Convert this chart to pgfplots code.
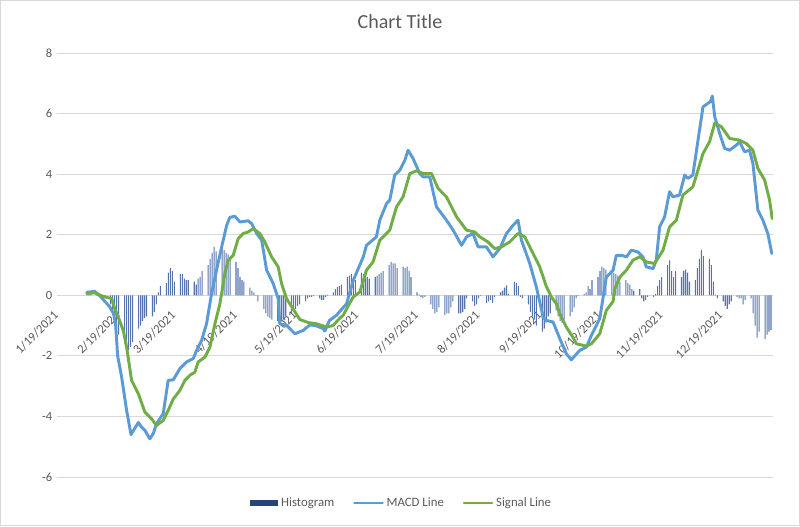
\documentclass[border=0pt]{standalone}
\usepackage{pgfplots}
\usepackage{pgfplotstable}
\pgfplotsset{compat=1.18}
\usepackage{fontspec}
\setmainfont{Carlito}
\definecolor{txt}{HTML}{595959}
\definecolor{gridc}{HTML}{D9D9D9}
\definecolor{hist}{HTML}{264478}
\definecolor{histbar}{HTML}{5673AE}
\definecolor{macd}{HTML}{5B9BD5}
\definecolor{sig}{HTML}{70AD47}
\pgfplotstableread{
d v
15 0.02
16 0.03
17 0.04
20 0.03
21 0.00
22 -0.02
23 -0.05
24 -0.10
27 -0.30
28 -0.50
29 -0.80
30 -1.10
31 -1.30
34 -1.60
35 -1.75
36 -1.80
37 -1.70
38 -1.55
41 -1.10
42 -1.00
43 -0.85
44 -0.75
45 -0.70
48 -0.70
49 -0.55
50 -0.30
51 0.10
52 0.30
55 0.40
56 0.75
57 0.90
58 0.80
59 0.45
62 0.70
63 0.70
64 0.55
65 0.50
66 0.50
69 0.45
70 0.35
71 0.55
72 0.60
73 0.80
76 1.00
77 1.20
78 1.40
79 1.60
80 1.45
83 1.65
84 1.50
85 1.40
86 1.35
87 1.20
90 1.10
91 0.90
92 0.60
93 0.50
94 0.45
97 0.25
98 0.15
99 0.10
100 -0.02
101 -0.20
104 -0.45
105 -0.60
106 -0.70
107 -0.75
108 -0.80
111 -0.85
112 -0.90
113 -0.85
114 -0.80
115 -0.70
118 -0.60
119 -0.50
120 -0.45
121 -0.35
122 -0.30
125 -0.20
126 -0.10
127 -0.05
128 -0.05
129 -0.03
132 -0.10
133 -0.15
134 -0.15
135 -0.05
136 0.02
139 0.10
140 0.20
141 0.28
142 0.30
143 0.35
146 0.60
147 0.65
148 0.70
149 0.55
150 0.50
153 0.75
154 0.70
155 0.65
156 0.60
157 0.55
160 0.60
161 0.65
162 0.70
163 0.75
164 0.80
167 1.00
168 1.10
169 1.05
170 1.05
171 0.90
174 0.95
175 0.90
176 0.95
177 0.80
178 0.60
181 0.10
182 0.02
183 -0.05
184 -0.10
185 -0.05
188 -0.30
189 -0.45
190 -0.60
191 -0.55
192 -0.40
195 -0.65
196 -0.60
197 -0.60
198 -0.40
199 -0.20
202 -0.60
203 -0.60
204 -0.55
205 -0.45
206 -0.10
209 -0.20
210 -0.35
211 -0.30
212 -0.10
213 -0.02
216 -0.25
217 -0.20
218 -0.15
219 -0.25
220 -0.05
223 0.10
224 0.15
225 0.25
226 0.33
227 0.05
230 0.45
231 0.40
232 0.30
233 -0.05
234 -0.10
237 -0.30
238 -0.55
239 -0.70
240 -0.80
241 -1.00
244 -1.20
245 -1.10
246 -0.90
247 -0.70
248 -0.60
251 -0.50
252 -0.70
253 -0.85
254 -0.90
255 -0.80
258 -0.70
259 -0.55
260 -0.40
261 -0.10
262 -0.02
265 0.05
266 0.10
267 0.30
268 0.20
269 0.50
272 0.60
273 0.80
274 0.95
275 0.90
276 0.85
279 0.80
280 0.75
281 0.70
282 0.65
283 0.45
286 0.50
287 0.40
288 0.35
289 0.20
290 0.15
293 0.20
294 -0.10
295 -0.20
296 -0.15
297 -0.05
300 -0.05
301 0.05
302 0.30
303 0.50
304 0.60
307 1.00
308 1.15
309 0.80
310 0.60
311 0.80
314 0.60
315 0.80
316 0.85
317 0.75
318 0.45
321 0.50
322 0.90
323 1.20
324 1.50
325 1.30
328 1.20
329 1.00
330 0.45
331 0.02
332 -0.10
335 -0.20
336 -0.35
337 -0.45
338 -0.30
339 -0.20
342 -0.05
343 -0.10
344 -0.10
345 -0.30
346 -0.15
349 -0.10
350 -0.60
351 -1.00
352 -1.40
353 -1.20
356 -1.45
357 -1.30
358 -1.20
359 -1.15
}\histtable
\pgfplotstableread{
d v
15 0.10
19 0.13
22 -0.05
26.5 -0.38
28.5 -0.62
29.5 -1.0
30.5 -2.0
32.5 -2.7
35 -3.8
37.2 -4.6
40.9 -4.2
42.5 -4.35
44.2 -4.46
46.7 -4.74
48.5 -4.55
50 -4.24
53.4 -3.91
55.9 -2.81
58.5 -2.79
61.8 -2.42
65.2 -2.2
68.5 -2.09
70.2 -1.82
72.7 -1.49
75.2 -0.94
77.7 0.05
80.2 0.83
82.8 1.6
85.3 2.31
86.9 2.57
89.4 2.61
92 2.42
96.1 2.46
97.8 2.37
100.4 2.04
102.9 1.82
105.4 0.83
108.7 0.39
111.2 -0.11
112 -0.94
115.4 -0.99
119.6 -1.27
123.8 -1.16
127.1 -0.98
130 -1.0
133.8 -1.1
134.7 -1.18
137 -0.83
140.5 -0.66
145.6 -0.28
149 0.5
154 1.27
155.6 1.65
160.6 1.93
162.3 2.48
165.7 3.03
167.3 3.14
169.8 3.97
172.4 4.13
174.9 4.46
176.5 4.79
179 4.52
182.4 4.02
184 3.91
187.4 3.91
190.8 2.92
195.8 2.48
199.2 2.15
203.4 1.65
205.9 1.93
209.2 2.04
211.7 1.6
215.9 1.6
219.2 1.27
222.6 1.54
226 2.04
229.3 2.31
231.8 2.48
233.5 1.82
237.7 1.05
241 0.28
243 -0.3
244.4 -0.72
246 -0.83
249.4 -0.88
252.8 -1.43
256.1 -1.93
258.6 -2.13
262.8 -1.82
266.2 -1.71
268.7 -1.32
272.9 -0.77
274.5 -0.1
276.2 0.6
279.6 0.83
281.2 1.32
283.8 1.32
286.3 1.27
288.8 1.49
292.1 1.43
294.6 1.27
296.3 0.94
299.7 0.88
301.3 1.16
303 2.26
305.5 2.59
308 3.42
309.7 3.25
313 3.31
315.6 3.97
317.2 3.86
319.7 3.97
322.3 5.12
324.8 6.22
327.3 6.34
328.5 6.39
329.5 6.58
330.7 5.9
333.2 5.34
335.7 4.85
338.2 4.79
341.6 4.96
343.2 5.07
345.7 4.74
348.2 4.79
349.9 4.35
352.4 2.81
354.9 2.48
357.4 2.04
359.4 1.38
}\macdtable
\pgfplotstableread{
d v
15 0.06
19 0.08
23 -0.03
27.5 -0.11
29 -0.44
30.8 -0.72
33.3 -1.16
35 -1.71
37.5 -2.81
40.9 -3.25
44.2 -3.86
47.6 -4.08
50 -4.3
53.4 -4.13
55.9 -3.8
58.5 -3.42
61.8 -3.14
64.3 -2.81
66.8 -2.64
69.3 -2.54
71 -2.2
74.4 -2.04
76.9 -1.71
79.4 -0.94
81.9 -0.28
84.4 0.72
86.1 1.16
88.6 1.32
91.1 1.87
93.6 2.04
96.1 2.09
98.6 2.2
102 2.04
104.5 1.76
107.9 1.27
111.2 0.94
112.9 0.39
115.4 -0.11
118.7 -0.45
122.1 -0.8
126.3 -0.9
130.5 -0.94
135.5 -1.05
138.8 -1.0
142 -0.77
143.9 -0.66
147 -0.28
148.9 -0.06
152.3 0.11
155.6 0.83
158.9 1.1
162.3 1.82
167.3 2.15
170.7 2.92
174 3.25
177.4 4.02
180.8 4.11
184.1 4.02
188.3 4.02
191.6 3.53
195.8 3.25
200.9 2.59
205.9 2.15
210 2.09
212.6 1.93
216.7 1.76
220.1 1.54
223.5 1.6
227.6 1.76
231.8 2.04
235.2 1.93
238.5 1.49
242.7 0.94
246 0.3
248.6 -0.06
251.1 -0.28
252.8 -0.61
256.1 -1.05
259.5 -1.4
261.1 -1.6
266.2 -1.68
268.7 -1.6
272.9 -1.27
276.2 -0.5
279.6 -0.2
280.4 0.2
283 0.6
286.3 0.83
289.6 1.16
293 1.27
296.3 1.1
300.5 1.05
304.7 1.49
308 2.26
311.4 2.48
314.7 3.31
319.7 3.58
324.8 4.68
328.1 5.07
330.7 5.68
334 5.57
338.2 5.18
343.2 5.12
346.6 5.01
349.9 4.79
352.4 4.19
355.8 3.8
358.3 3.14
359.6 2.53
}\sigtable
\begin{document}
\begin{tikzpicture}[x=1pt,y=1pt]
\begin{axis}[
  at={(42.75pt,36.75pt)}, anchor=south west,
  scale only axis, width=537pt, height=318pt,
  xmin=0, xmax=360, ymin=-6, ymax=8,
  axis line style={draw=none},
  ytick={-6,-4,...,8},
  ymajorgrids, grid style={draw=gridc, line width=0.75pt},
  major tick length=0pt,
  xtick={0,31,59,90,120,151,181,212,243,273,304,334},
  xticklabels={1/19/2021,2/19/2021,3/19/2021,4/19/2021,5/19/2021,6/19/2021,7/19/2021,8/19/2021,9/19/2021,10/19/2021,11/19/2021,12/19/2021},
  xticklabel shift=-123.5pt,
  xticklabel style={rotate=45, anchor=east, text=txt, font=\fontsize{9.4}{11}\selectfont, inner sep=1pt},
  yticklabel style={text=txt, font=\fontsize{9.4}{11}\selectfont},
  /pgf/number format/assume math mode=true,
  legend style={at={(0.482,-0.0613)}, anchor=center, draw=none, fill=none,
    legend columns=3, font=\fontsize{9.6}{11}\selectfont, text=txt,
    /tikz/every even column/.append style={column sep=12pt},
    inner sep=0pt},
  legend cell align=left,
  legend image code/.code={\draw[#1] (0pt,0pt) -- (21pt,0pt);},
]
\addplot[ybar, bar width=0.8pt, fill=histbar, draw=none,
  legend image code/.code={\fill[hist] (0pt,-2.5pt) rectangle (21pt,2.5pt);}] table[x=d,y=v] {\histtable};
\addlegendentry{Histogram}
\addplot[macd, line width=2.2pt, line join=round, line cap=round] table[x=d,y=v] {\macdtable};
\addlegendentry{MACD Line}
\addplot[sig, line width=2.2pt, line join=round, line cap=round] table[x=d,y=v] {\sigtable};
\addlegendentry{Signal Line}
\end{axis}
\pgfresetboundingbox
\useasboundingbox (0pt,0pt) rectangle (600pt,394.5pt);
\draw[gridc, line width=0.75pt] (0.4pt,0.4pt) rectangle (599.6pt,394.1pt);
\node[text=txt, font=\fontsize{15}{17}\selectfont] at (300pt,378pt) {Chart Title};
\end{tikzpicture}
\end{document}
